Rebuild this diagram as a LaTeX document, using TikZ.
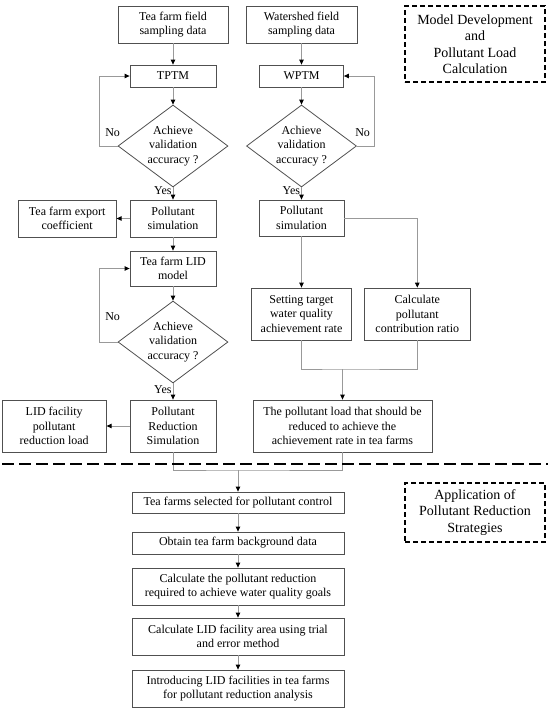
\documentclass[tikz,border=0pt]{standalone}
\usepackage{fontspec}
\setmainfont{Liberation Serif}
\usepackage{tikz}
\usetikzlibrary{arrows.meta,shapes.geometric,positioning}

\definecolor{boxline}{HTML}{505050}
\definecolor{flowline}{HTML}{999999}
\newcommand{\boxfont}{\fontsize{12pt}{14.5pt}\selectfont}
\newcommand{\notefont}{\fontsize{14pt}{16.5pt}\selectfont}

\begin{document}
\begin{tikzpicture}[->, >={Triangle[length=5pt,width=4.5pt,color=black]},
    x=1pt, y=-1pt, align=center,
    box/.style={rectangle, draw=boxline, line width=0.8pt, inner sep=2pt, font=\boxfont},
    decision/.style={diamond, draw=boxline, line width=0.8pt, inner sep=-12pt,
      minimum width=110pt, minimum height=82pt, font=\boxfont},
    note/.style={rectangle, draw=black, dash pattern=on 5pt off 3pt, line width=1.6pt,
      inner sep=3pt, font=\notefont},
    flow/.style={draw=flowline, line width=0.8pt},
    every edge/.style={flow},
    tag/.style={inner sep=1pt, font=\boxfont}
    ]

    \useasboundingbox (0,0) rectangle (550,713);

    \node[box, minimum width=110pt, minimum height=37pt] (teafield) at (173,24.5) {Tea farm field\\sampling data};
    \node[box, minimum width=86pt, minimum height=22pt]  (tptm)     at (173,76)    {TPTM};
    \node[decision]                                      (checkT)   at (173,146)   {Achieve\\validation\\accuracy ?};
    \node[box, minimum width=86pt, minimum height=37pt]  (simT)     at (173,218.5) {Pollutant\\simulation};
    \node[box, minimum width=98pt, minimum height=37pt, left=13pt of simT] (export) {Tea farm export\\coefficient};
    \node[box, minimum width=86pt, minimum height=35pt]  (lidmodel) at (173,268.5) {Tea farm LID\\model};
    \node[decision]                                      (checkL)   at (173,342)   {Achieve\\validation\\accuracy ?};
    \node[box, minimum width=86pt, minimum height=52pt]  (reduce)   at (173,426)   {Pollutant\\Reduction\\Simulation};
    \node[box, minimum width=104pt, minimum height=52pt, left=23pt of reduce] (lidload) {LID facility\\pollutant\\reduction load};

    \node[box, minimum width=111pt, minimum height=37pt] (wsfield)  at (301.5,24.5) {Watershed field\\sampling data};
    \node[box, minimum width=84pt, minimum height=22pt]  (wptm)     at (301.5,76)   {WPTM};
    \node[decision]                                      (checkW)   at (301.5,146)  {Achieve\\validation\\accuracy ?};
    \node[box, minimum width=85pt, minimum height=36pt]  (simW)     at (301.5,218)  {Pollutant\\simulation};
    \node[box, minimum width=100pt, minimum height=52pt] (target)   at (301.5,314)  {Setting target\\water quality\\achievement rate};
    \node[box, minimum width=106pt, minimum height=52pt, right=12pt of target] (ratio) {Calculate\\pollutant\\contribution ratio};
    \node[box, minimum width=179pt, minimum height=52pt] (load)     at (342.5,426)  {The pollutant load that should be\\reduced to achieve the\\achievement rate in tea farms};

    \node[box, minimum width=212pt, minimum height=21pt] (select)    at (238,502.5) {Tea farms selected for pollutant control};
    \node[box, minimum width=212pt, minimum height=22pt] (obtain)    at (238,543)   {Obtain tea farm background data};
    \node[box, minimum width=212pt, minimum height=37pt] (required)  at (238,586.5) {Calculate the pollutant reduction\\required to achieve water quality goals};
    \node[box, minimum width=212pt, minimum height=37pt] (area)      at (238,636.5) {Calculate LID facility area using trial\\and error method};
    \node[box, minimum width=212pt, minimum height=37pt] (introduce) at (238,688.5) {Introducing LID facilities in tea farms\\for pollutant reduction analysis};

    \node[note, minimum width=140pt, minimum height=76pt] (devnote) at (475,44)    {Model Development\\and\\Pollutant Load\\Calculation};
    \node[note, minimum width=140pt, minimum height=59pt] (appnote) at (475,512.5) {Application of\\Pollutant Reduction\\Strategies};

    \path
    (teafield) edge (tptm)
    (tptm)     edge (checkT)
    (checkT)   edge node[tag, left, pos=0.3] {Yes} (simT)
    (simT)     edge (export)
    (simT)     edge (lidmodel)
    (lidmodel) edge (checkL)
    (checkL)   edge node[tag, left, pos=0.4] {Yes} (reduce)
    (reduce)   edge (lidload)
    (wsfield)  edge (wptm)
    (wptm)     edge (checkW)
    (checkW)   edge node[tag, left, pos=0.3] {Yes} (simW)
    (simW)     edge (target)
    (select)   edge (obtain)
    (obtain)   edge (required)
    (required) edge (area)
    (area)     edge (introduce);

    \draw[flow] (checkT.west) -- node[tag, above=8pt, xshift=4pt] {No} ++(-18,0) |- (tptm.west);
    \draw[flow] (checkL.west) -- node[tag, above=20pt, xshift=4pt] {No} ++(-18,0) |- (lidmodel.west);
    \draw[flow] (checkW.east) -- node[tag, above=8pt, xshift=-3pt] {No} ++(17.5,0) |- (wptm.east);
    \draw[flow] (simW.east) -| (ratio.north);

    \coordinate (joinR) at (load.north |- 0,369);
    \draw[flow, -] (target.south) |- (joinR) -| (ratio.south);
    \draw[flow] (joinR) -- (load.north);

    \coordinate (joinB) at (select.north |- 0,470);
    \draw[flow, -] (reduce.south) |- (joinB) -| (load.south);
    \draw[flow] (joinB) -- (select.north);

    \draw[-, line width=2pt, dash pattern=on 12pt off 5pt] (2,464) -- (548,464);
\end{tikzpicture}
\end{document}
